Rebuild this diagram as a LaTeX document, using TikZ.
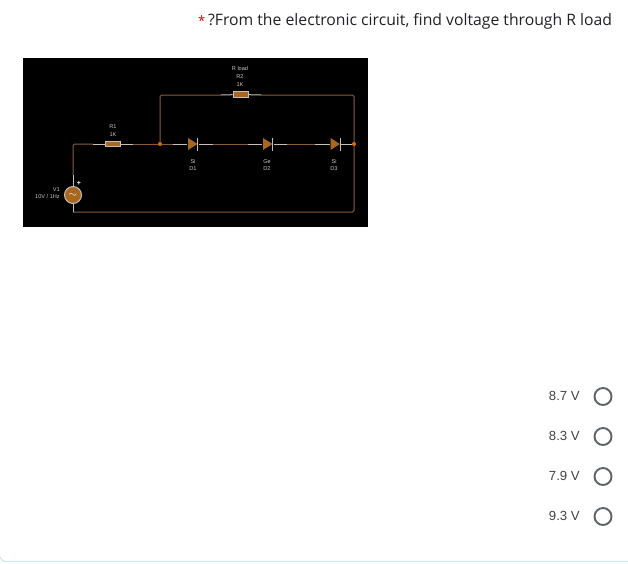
\documentclass[tikz,border=0pt]{standalone}
\usepackage{fontspec}
\setmainfont{Open Sans}
\newfontfamily\labelfont{Liberation Sans}
\usetikzlibrary{shapes.geometric}

\definecolor{wirebrown}{HTML}{8A5C3E}
\definecolor{bodybrown}{HTML}{A8671E}
\definecolor{leadgrey}{HTML}{C4BFB9}
\definecolor{labelgrey}{HTML}{C8C8C8}
\definecolor{ringgrey}{HTML}{5F6368}
\definecolor{titleink}{HTML}{202124}
\definecolor{cardedge}{HTML}{D3E6EC}

\begin{document}
\begin{tikzpicture}[x=1pt,y=-1pt,
  wire/.style={wirebrown,line width=1pt,rounded corners=1.5pt},
  lead/.style={leadgrey,line width=1pt},
  resistor/.style={rectangle,draw=leadgrey,fill=bodybrown,line width=.9pt,minimum width=15pt,minimum height=5.5pt,inner sep=0pt},
  diode/.style={rectangle,minimum width=11pt,minimum height=13pt,inner sep=0pt,
    path picture={
      \fill[bodybrown] ([xshift=.5pt,yshift=-.5pt]path picture bounding box.north west) -- ([xshift=-1pt]path picture bounding box.east) -- ([xshift=.5pt,yshift=.5pt]path picture bounding box.south west) -- cycle;
      \draw[leadgrey,line width=1pt] ([xshift=-.7pt]path picture bounding box.north east) -- ([xshift=-.7pt]path picture bounding box.south east);
    }},
  source/.style={circle,draw=leadgrey,fill=bodybrown,line width=1pt,minimum size=17pt,inner sep=0pt,text=white,font=\labelfont\fontsize{11}{11}\selectfont},
  junction/.style={circle,fill=orange!85!black,minimum size=4pt,inner sep=0pt},
  partlabel/.style={text=labelgrey,font=\labelfont\fontsize{5.6}{7.6}\selectfont,align=center,inner sep=0pt},
  answer/.style={text=titleink!85,font=\labelfont\fontsize{13.2}{14}\selectfont,anchor=east,inner sep=0pt},
  ring/.style={circle,draw=ringgrey,line width=1.9pt,minimum size=17pt,inner sep=0pt}]

\useasboundingbox (0,0) rectangle (628,563);

\node[anchor=west,inner sep=0pt,text=red!80!black,font=\fontsize{13}{14}\selectfont] (star) at (198,21) {*};
\node[anchor=west,inner sep=0pt,text=titleink,font=\fontsize{15.75}{17}\selectfont] (title) at (208,21) {?From the electronic circuit, find voltage through R load};

\fill[black] (23,58) rectangle (368,227);

% parts
\node[resistor] (R1) at (113,144) {};
\node[resistor] (R2) at (240.5,94.5) {};
\node[diode] (D1) at (193,144) {};
\node[diode] (D2) at (268,144) {};
\node[diode] (D3) at (335.5,144) {};
\node[source] (V1) at (73,195) {$\sim$};
\node[junction] (J1) at (160,144) {};
\node[junction] (J2) at (354,144) {};

% corners and ends of the leads
\coordinate (topleft) at (160,95);
\coordinate (topright) at (354,95);
\coordinate (botright) at (354,212);
\coordinate (botleft) at (73,212);
\coordinate (srctop) at (73,144);
\coordinate (srcleadtop) at (73,175);
\coordinate (srcleadbot) at (73,212);
\coordinate (R1a) at (93,144);
\coordinate (R1b) at (133,144);
\coordinate (R2a) at (221,95);
\coordinate (R2b) at (261,95);
\coordinate (D1a) at (173,144);
\coordinate (D1b) at (213,144);
\coordinate (D2a) at (248,144);
\coordinate (D2b) at (287,144);
\coordinate (D3a) at (315,144);
\coordinate (D3b) at (352,144);

% wires
\draw[wire] (srcleadtop) -- (srctop) -- (R1a);
\draw[wire] (R1b) -- (J1);
\draw[wire] (J1) -- (topleft) -- (R2a);
\draw[wire] (R2b) -- (topright) -- (J2);
\draw[wire] (J2) -- (botright) -- (botleft);
\draw[wire] (J1) -- (D1a);
\draw[wire] (D1b) -- (D2a);
\draw[wire] (D2b) -- (D3a);

% leads
\draw[lead] (R1a) -- (R1);
\draw[lead] (R1) -- (R1b);
\draw[lead] (R2a) -- (R2);
\draw[lead] (R2) -- (R2b);
\draw[lead] (D1a) -- (D1);
\draw[lead] (D1) -- (D1b);
\draw[lead] (D2a) -- (D2);
\draw[lead] (D2) -- (D2b);
\draw[lead] (D3a) -- (D3);
\draw[lead] (D3) -- (D3b);
\draw[lead] (srcleadtop) -- (V1);
\draw[lead] (V1) -- (srcleadbot);

% labels
\node[partlabel] (R1lab) at (113,130.5) {R1\\1K};
\node[partlabel] (R2lab) at (240,76.5) {R load\\R2\\1K};
\node[partlabel] (D1lab) at (193,165) {Si\\D1};
\node[partlabel] (D2lab) at (267,165) {Ge\\D2};
\node[partlabel] (D3lab) at (334,165) {Si\\D3};
\node[partlabel,align=right,anchor=east] (V1lab) at (60,193) {V1\\10V / 1Hz};
\node[partlabel,font=\labelfont\bfseries\fontsize{7}{7}\selectfont,text=white] (plus) at (79,183) {+};

% answers
\foreach \val/\ypos/\name in {8.7 V/396/a,8.3 V/436/b,7.9 V/476/c,9.3 V/516/d}{
  \node[answer] (opt\name) at (580,\ypos) {\val};
  \node[ring] (ring\name) at (603,\ypos+.5) {};
}

% edge of the card
\draw[cardedge,line width=1.2pt] (0,557) .. controls (1,560) and (3,561.5) .. (7,561.5) -- (628,561.5);

\end{tikzpicture}
\end{document}
